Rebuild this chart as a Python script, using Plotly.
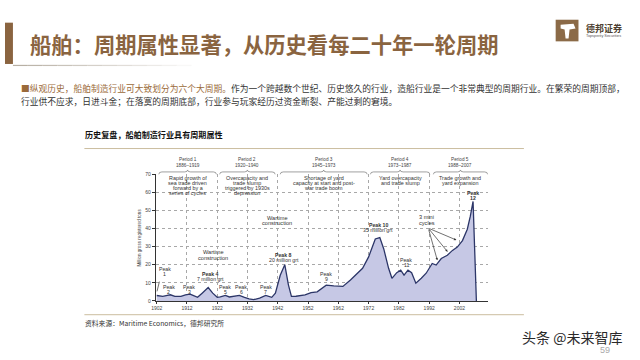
import plotly.graph_objects as go

# ---------------- data ----------------
years = [1902, 1904, 1905.5, 1906.5, 1908, 1910, 1911.5, 1913, 1914, 1915.5, 1917, 1919,
         1920.5, 1922, 1923, 1924.7, 1926, 1927.5, 1929.3, 1931, 1932.5, 1934, 1936, 1938,
         1940, 1941.2, 1942.8, 1944.3, 1945.5, 1946.5, 1948, 1951, 1953, 1955, 1958, 1960.5,
         1963.5, 1966, 1968.3, 1970, 1972, 1974.2, 1975.7, 1977, 1978.6, 1979.7, 1981.3,
         1982.6, 1983.7, 1985, 1986.2, 1987.6, 1989.4, 1991, 1993, 1994.3, 1996, 1998,
         1999.7, 2001.3, 2003, 2004.6, 2005.6, 2006.5, 2007.6]
tonnage = [3.0, 2.5, 3.1, 3.4, 2.5, 2.5, 3.4, 3.8, 3.1, 2.0, 4.3, 7.4,
           4.3, 2.0, 2.3, 3.1, 2.2, 2.5, 3.1, 2.0, 1.1, 0.7, 1.6, 3.1,
           2.0, 4.3, 14.2, 20.0, 8.9, 2.5, 2.6, 3.4, 4.6, 5.0, 8.7, 8.3,
           8.0, 11.6, 15.3, 18.0, 24.3, 34.2, 35.0, 28.7, 18.0, 12.5, 15.6,
           17.0, 14.3, 17.0, 15.6, 9.8, 12.5, 15.3, 20.7, 19.8, 23.4, 25.2,
           27.9, 29.7, 33.3, 39.6, 46.8, 54.9, 0.0]

x_ticks = [1902, 1912, 1922, 1932, 1942, 1952, 1962, 1972, 1982, 1992, 2002]
y_ticks = [0, 10, 20, 30, 40, 50, 60, 70]

period_names = ["Period 1", "Period 2", "Period 3", "Period 4", "Period 5"]
period_years = ["1886–1919", "1920–1940", "1945–1973", "1973–1987", "1988–2007"]
period_desc = [
    ["Rapid growth of", "sea trade driven", "forward by a", "series of cycles"],
    ["Overcapacity and", "trade slump", "triggered by 1930s", "depression"],
    ["Shortage of yard", "capacity at start and post-", "war trade boom"],
    ["Yard overcapacity", "and trade slump"],
    ["Trade growth and", "yard expansion"],
]
period_spans = [(1902.7, 1921.7), (1922.8, 1941.1), (1942.8, 1971.5),
                (1972.6, 1992.2), (1993.4, 2011.3)]

peak_texts = [
    ["Peak", "1"], ["Peak", "2"], ["Peak", "3"], ["<b>Peak 4</b>", "7 million grt"],
    ["Peak", "5"], ["Peak", "6"], ["Peak", "7"], ["<b>Peak 8</b>", "20 million grt"],
    ["Peak", "9"], ["<b>Peak 10</b>", "35 million grt"], ["Peak", "11"],
    ["<b>Peak</b>", "<b>12</b>"],
]
peak_pos = [(1904.6, 16.1), (1905.9, 6.5), (1912.8, 6.5), (1919.9, 13.6),
            (1924.6, 6.2), (1929.9, 6.2), (1938.0, 6.2), (1943.9, 23.9),
            (1958.0, 13.4), (1975.1, 40.7), (1984.4, 21.4), (2006.6, 58.1)]

notes = [["Wartime", "construction"], ["Wartime", "construction"], ["3 mini", "cycles"]]
notes_pos = [(1920.6, 25.5), (1941.8, 44.5), (1991.2, 44.8)]
mini_cycle_tail = (1991.7, 40.2)
mini_cycle_tips = [(1994.7, 22.4), (1998.1, 27.1), (2001.0, 33.6)]
peak1_arrow = ((1903.0, 11.5), (1902.1, 5.3))

title = "船舶：周期属性显著，从历史看每二十年一轮周期"
body_hl = "■纵观历史，船舶制造行业可大致划分为六个大周期。"
body_1 = "作为一个跨越数个世纪、历史悠久的行业，造船行业是一个非常典型的周期行业。在繁荣的周期顶部，"
body_2 = "行业供不应求，日进斗金；在落寞的周期底部，行业参与玩家经历过资金断裂、产能过剩的窘境。"
chart_title = "历史复盘，船舶制造行业具有周期属性"
source = "资料来源：Maritime Economics，德邦研究所"
watermark = "头条 @未来智库"
page_no = "59"

# ---------------- figure ----------------
W, H = 640, 360
EN = "Liberation Sans, Arial, sans-serif"
CJK = "Noto Sans CJK SC, sans-serif"
BROWN = "#8a6440"

def py(p):
    return 1 - p / H

def px(p):
    return p / W

fig = go.Figure()
fig.add_trace(go.Scatter(
    x=years, y=tonnage, mode="lines", fill="tozeroy",
    line=dict(color="#2c3668", width=1.3), fillcolor="#c6c8e5",
    hoverinfo="skip", showlegend=False))

def add_lines(lines, x, y, size, sp, xref="x", yref="y", color="#333", family=EN):
    n = len(lines)
    for i, t in enumerate(lines):
        fig.add_annotation(x=x, y=y, xref=xref, yref=yref, text=t, showarrow=False,
                           font=dict(size=size, color=color, family=family),
                           xanchor="center", yanchor="middle",
                           yshift=((n - 1) / 2 - i) * sp)

# period headers, brackets, descriptions
for name, yrs, desc, (a, b) in zip(period_names, period_years, period_desc, period_spans):
    m = (a + b) / 2
    fig.add_annotation(x=m, y=py(159.3), xref="x", yref="paper", text=name, showarrow=False,
                       font=dict(size=4.7, color="#444", family=EN), yanchor="middle")
    fig.add_annotation(x=m, y=py(165), xref="x", yref="paper", text=yrs, showarrow=False,
                       font=dict(size=4.7, color="#444", family=EN), yanchor="middle")
    ye, yf, yt = py(174.2), py(171.8), py(169.8)
    d = 1.0
    path = (f"M {a},{ye} Q {a},{yf} {a+d},{yf} L {m-d},{yf} Q {m},{yf} {m},{yt} "
            f"Q {m},{yf} {m+d},{yf} L {b-d},{yf} Q {b},{yf} {b},{ye}")
    fig.add_shape(type="path", path=path, xref="x", yref="paper",
                  line=dict(color="#777", width=0.7))
    for i, t in enumerate(desc):
        fig.add_annotation(x=m, y=py(178.2 + i * 4.9), xref="x", yref="paper", text=t,
                           showarrow=False, yanchor="middle",
                           font=dict(size=5.4, color="#333", family=EN))

# peak labels
for lines, (x, y) in zip(peak_texts, peak_pos):
    add_lines(lines, x, y, 5.2, 5.2)

for lines, (x, y) in zip(notes, notes_pos):
    add_lines(lines, x, y, 5.6, 5.6)

# arrows
(tx, ty), (hx, hy) = peak1_arrow
fig.add_annotation(x=hx, y=hy, ax=tx, ay=ty, xref="x", yref="y", axref="x", ayref="y",
                   text="", showarrow=True, arrowhead=0, arrowwidth=0.7, arrowcolor="#333")
for (hx, hy) in mini_cycle_tips:
    fig.add_annotation(x=hx, y=hy, ax=mini_cycle_tail[0], ay=mini_cycle_tail[1],
                       xref="x", yref="y", axref="x", ayref="y", text="", showarrow=True,
                       arrowhead=2, arrowsize=0.7, arrowwidth=0.7, arrowcolor="#333")

# y-axis title
fig.add_annotation(x=px(131), y=py(238), xref="paper", yref="paper",
                   text="Million gross registered tons", textangle=-90, showarrow=False,
                   font=dict(size=4.6, color="#444", family=EN))

# ---------------- slide decoration ----------------
fig.add_shape(type="rect", xref="paper", yref="paper", x0=0, x1=px(8), y0=py(62), y1=py(20),
              fillcolor=BROWN, line=dict(width=0))
segs = 12
for i in range(segs):
    fig.add_shape(type="line", xref="paper", yref="paper",
                  x0=px(8 + i * 15), x1=px(8 + (i + 1) * 15), y0=py(63.5), y1=py(63.5),
                  line=dict(color="#b8b0a4", width=1.2), opacity=max(0.05, 1 - i / segs))
fig.add_annotation(x=px(23), y=py(41), xref="paper", yref="paper", text=f"<b>{title}</b>",
                   showarrow=False, xanchor="left", yanchor="middle",
                   font=dict(size=21.3, color=BROWN, family=CJK))

# logo
fig.add_shape(type="rect", xref="paper", yref="paper", x0=px(555), x1=px(578),
              y0=py(39), y1=py(17), fillcolor="#8b6a47", line=dict(width=0))
fig.add_shape(type="path", xref="paper", yref="paper",
              path=f"M {px(560)},{py(22)} L {px(573)},{py(21)} L {px(575)},{py(26)} "
                   f"L {px(569)},{py(27)} L {px(568)},{py(36)} L {px(565)},{py(36)} "
                   f"L {px(564)},{py(27)} L {px(560)},{py(26)} Z",
              fillcolor="white", line=dict(width=0))
fig.add_annotation(x=px(584), y=py(26), xref="paper", yref="paper", text="<b>德邦证券</b>",
                   showarrow=False, xanchor="left", yanchor="middle",
                   font=dict(size=9, color="#4e3f31", family=CJK))
fig.add_annotation(x=px(584), y=py(34), xref="paper", yref="paper", text="Topsperity Securities",
                   showarrow=False, xanchor="left", yanchor="middle",
                   font=dict(size=3.8, color="#555", family=EN))

# body text
fig.add_annotation(x=px(14), y=py(86.5), xref="paper", yref="paper",
                   text=f"<span style='color:#9a6a3a'>{body_hl}</span>{body_1}",
                   showarrow=False, xanchor="left", yanchor="middle",
                   font=dict(size=8.75, color="#333", family=CJK))
fig.add_annotation(x=px(14), y=py(100.5), xref="paper", yref="paper", text=body_2,
                   showarrow=False, xanchor="left", yanchor="middle",
                   font=dict(size=8.75, color="#333", family=CJK))

# chart title, frame lines, source
fig.add_annotation(x=px(79), y=py(134), xref="paper", yref="paper", text=f"<b>{chart_title}</b>",
                   showarrow=False, xanchor="left", yanchor="middle",
                   font=dict(size=8.1, color="#111", family=CJK))
for yy in (148, 317):
    fig.add_shape(type="line", xref="paper", yref="paper", x0=px(80), x1=px(523),
                  y0=py(yy), y1=py(yy), line=dict(color="#cbbd9f", width=1))
fig.add_annotation(x=px(79), y=py(325.5), xref="paper", yref="paper", text=source,
                   showarrow=False, xanchor="left", yanchor="middle",
                   font=dict(size=6.8, color="#333", family=CJK))
fig.add_annotation(x=px(605), y=py(353), xref="paper", yref="paper", text=page_no,
                   showarrow=False, xanchor="center", yanchor="middle",
                   font=dict(size=9, color="#aaa", family=EN))
fig.add_annotation(x=px(571), y=py(340), xref="paper", yref="paper", text=watermark,
                   showarrow=False, xanchor="center", yanchor="middle",
                   font=dict(size=14, color="#2a2a2a", family=CJK))

fig.update_layout(
    width=W, height=H, margin=dict(l=0, r=0, t=0, b=0),
    paper_bgcolor="white", plot_bgcolor="white", showlegend=False,
    xaxis=dict(domain=[px(152), px(487)], range=[1901.7, 2011.5], tickvals=x_ticks,
               ticks="outside", ticklen=2.5, tickcolor="#333", tickwidth=0.8,
               showline=True, linecolor="#333", linewidth=1,
               showgrid=True, gridcolor="#a8a8a8", gridwidth=0.7, griddash="dot",
               zeroline=False, tickfont=dict(size=5, color="#444", family=EN)),
    yaxis=dict(domain=[py(303), py(174)], range=[0, 70], tickvals=y_ticks,
               ticks="outside", ticklen=3, tickcolor="#333", tickwidth=0.8,
               showline=True, linecolor="#333", linewidth=1,
               showgrid=True, gridcolor="#a8a8a8", gridwidth=0.7, griddash="dot",
               zeroline=False, tickfont=dict(size=5, color="#444", family=EN)),
)

fig.write_html("out.html")
